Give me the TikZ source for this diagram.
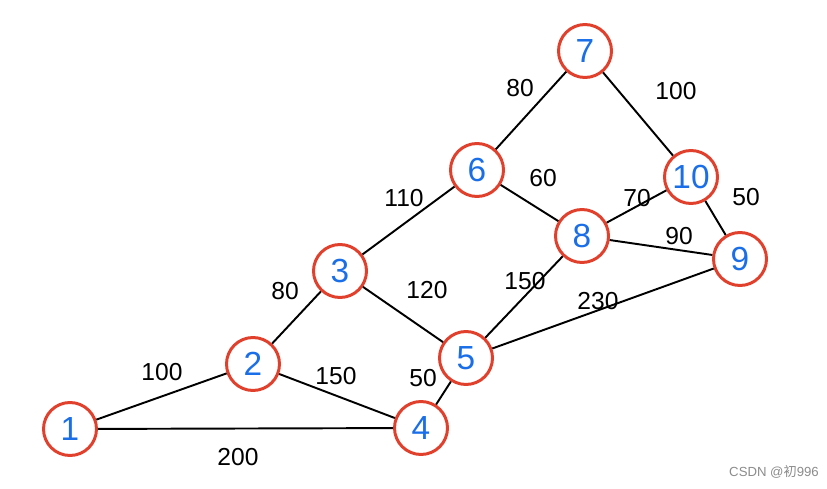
\documentclass[tikz,border=0pt]{standalone}
\usepackage{fontspec}
\setmainfont{Liberation Sans}
\newfontfamily\cjk{Noto Sans CJK SC}
\definecolor{nodered}{HTML}{E0402C}
\definecolor{numblue}{HTML}{1A6FE8}
\begin{document}
\begin{tikzpicture}[x=0.02cm,y=-0.02cm,
  vtx/.style={circle,draw=nodered,line width=1.7pt,fill=white,minimum size=1.06cm,inner sep=0pt,text=numblue,font=\fontsize{19}{19}\selectfont},
  edge/.style={line width=1.1pt,black},
  wlab/.style={font=\fontsize{14}{14}\selectfont,text=black,inner sep=0pt}]
\useasboundingbox (0,0) rectangle (827,489);
\fill[white] (0,0) rectangle (827,489);
\node[vtx] (n1) at (70,429) {1};
\node[vtx] (n2) at (253,364) {2};
\node[vtx] (n3) at (340,271) {3};
\node[vtx] (n4) at (421,428) {4};
\node[vtx] (n5) at (466,358) {5};
\node[vtx] (n6) at (477,170) {6};
\node[vtx] (n7) at (585,51) {7};
\node[vtx] (n8) at (582,236) {8};
\node[vtx] (n9) at (740,259) {9};
\node[vtx] (n10) at (691,177) {10};
\draw[edge] (n1) -- (n2);
\draw[edge] (n1) -- (n4);
\draw[edge] (n2) -- (n4);
\draw[edge] (n2) -- (n3);
\draw[edge] (n3) -- (n6);
\draw[edge] (n3) -- (n5);
\draw[edge] (n4) -- (n5);
\draw[edge] (n5) -- (n8);
\draw[edge] (n5) -- (n9);
\draw[edge] (n6) -- (n7);
\draw[edge] (n6) -- (n8);
\draw[edge] (n7) -- (n10);
\draw[edge] (n8) -- (n10);
\draw[edge] (n8) -- (n9);
\draw[edge] (n10) -- (n9);
\node[wlab] (l12) at (162,372) {100};
\node[wlab] (l14) at (238,457) {200};
\node[wlab] (l24) at (336,376) {150};
\node[wlab] (l23) at (285,291) {80};
\node[wlab] (l36) at (404,198) {110};
\node[wlab] (l35) at (427,290) {120};
\node[wlab] (l45) at (423,378) {50};
\node[wlab] (l58) at (525,281) {150};
\node[wlab] (l59) at (598,301) {230};
\node[wlab] (l67) at (520,88) {80};
\node[wlab] (l68) at (543,178) {60};
\node[wlab] (l710) at (676,91) {100};
\node[wlab] (l810) at (637,198) {70};
\node[wlab] (l89) at (679,236) {90};
\node[wlab] (l109) at (746,197) {50};
\node[text=black!45,font=\fontsize{7.5}{7.5}\selectfont,inner sep=0pt] (wm) at (774,472) {CSDN @{\cjk 初}996};
\end{tikzpicture}
\end{document}
